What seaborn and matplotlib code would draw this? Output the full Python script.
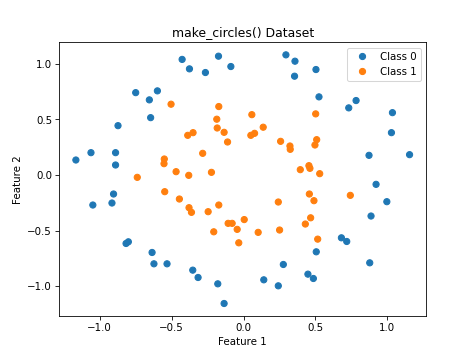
import matplotlib
matplotlib.use("Agg")
import matplotlib.pyplot as plt
import seaborn as sns
import pandas as pd

class0_x = [-0.427, -0.376, -0.265, -0.174, -0.088, -0.750, -0.655, -0.599, -0.646, -0.873,
            -1.166, -1.061, -0.890, -0.890,
            0.295, 0.358, 0.355, 0.504, 0.525, 0.732, 0.783, 1.036, 1.029, 0.873, 1.155,
            -1.048, -0.915, -0.904, -0.817, -0.801, -0.636, -0.623, -0.532, -0.353, -0.316,
            -0.179, -0.135,
            0.922, 0.997, 0.887, 0.681, 0.718, 0.506, 0.277, 0.141, 0.242, 0.448, 0.486, 0.878]
class0_y = [1.040, 0.955, 0.922, 1.069, 0.976, 0.741, 0.676, 0.757, 0.516, 0.444,
            0.135, 0.201, 0.201, 0.090,
            1.081, 1.024, 0.889, 0.949, 0.703, 0.604, 0.670, 0.561, 0.381, 0.177, 0.183,
            -0.270, -0.252, -0.171, -0.616, -0.601, -0.697, -0.799, -0.799, -0.856, -0.922,
            -0.979, -1.156,
            -0.084, -0.240, -0.369, -0.565, -0.598, -0.691, -0.805, -0.943, -0.997, -0.892, -0.931, -0.790]

class1_x = [-0.504, -0.172, -0.186, -0.183, -0.135, -0.111, -0.388, -0.351, -0.284, -0.551,
            -0.553, -0.469, -0.381, -0.223, -0.739,
            0.058, 0.502, 0.137, 0.077, 0.051, 0.258, 0.323, 0.325, 0.509, 0.497,
            0.395, 0.455, 0.462, 0.530,
            -0.548, -0.446, -0.379, -0.362, -0.246, -0.172, -0.207, -0.107, -0.079, -0.044,
            -0.033, 0.005,
            0.458, 0.490, 0.242, 0.743, 0.102, 0.251, 0.430, 0.467, 0.516]
class1_y = [0.637, 0.616, 0.502, 0.423, 0.384, 0.297, 0.357, 0.381, 0.195, 0.144,
            0.102, 0.030, -0.003, 0.024, -0.021,
            0.543, 0.550, 0.430, 0.375, 0.357, 0.303, 0.261, 0.231, 0.318, 0.270,
            0.048, 0.084, 0.060, 0.012,
            -0.150, -0.216, -0.294, -0.336, -0.330, -0.270, -0.511, -0.435, -0.435, -0.489,
            -0.610, -0.401,
            -0.171, -0.231, -0.243, -0.183, -0.516, -0.495, -0.441, -0.385, -0.577]

class_names = ["Class 0", "Class 1"]

df = pd.DataFrame({
    "x": class0_x + class1_x,
    "y": class0_y + class1_y,
    "cls": [class_names[0]] * len(class0_x) + [class_names[1]] * len(class1_x),
})

fig, ax = plt.subplots(figsize=(6.4, 4.8), dpi=74)
sns.scatterplot(data=df, x="x", y="y", hue="cls", hue_order=class_names,
                palette=["#1f77b4", "#ff7f0e"], s=36, linewidth=1.0,
                edgecolor="face", ax=ax)
ax.set_title("make_circles() Dataset")
ax.set_xlabel("Feature 1")
ax.set_ylabel("Feature 2")
handles, labels = ax.get_legend_handles_labels()
ax.legend(handles, labels, loc="upper right")
fig.savefig("out.png", dpi=74)
